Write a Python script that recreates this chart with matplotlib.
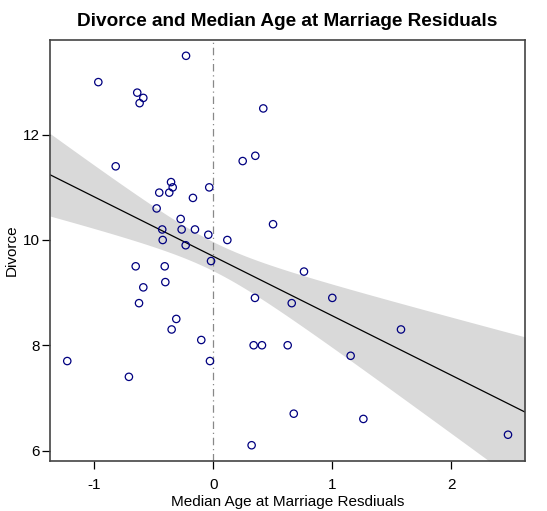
import numpy as np
import matplotlib
matplotlib.use("Agg")
from matplotlib import pyplot as plt

plt.rcParams["font.family"] = ["Liberation Sans", "DejaVu Sans"]
plt.rcParams["axes.unicode_minus"] = False

# Residuals of median age at marriage vs divorce rate
age_resid = [
    -0.229, -0.966, -0.639, -0.588, -0.619, 0.420, 0.353, 0.247, -0.820, -0.355,
    -0.341, -0.454, -0.370, -0.034, -0.171, 0.502, -0.476, -0.274, -0.429, -0.266,
    -0.154, -0.042, -0.425, 0.118, -0.232, -0.019, -0.652, -0.408, -0.403, -0.588,
    -0.624, 0.350, -0.311, -0.350, -0.101, 0.339, 0.409, 0.625, -1.227, -0.028,
    -0.709, 0.322, 0.762, 0.659, 1.000, 1.577, 1.154, 0.676, 1.261, 2.476,
]
divorce = [
    13.5, 13.0, 12.8, 12.7, 12.6, 12.5, 11.6, 11.5, 11.4, 11.1,
    11.0, 10.9, 10.9, 11.0, 10.8, 10.3, 10.6, 10.4, 10.2, 10.2,
    10.2, 10.1, 10.0, 10.0, 9.9, 9.6, 9.5, 9.5, 9.2, 9.1,
    8.8, 8.9, 8.5, 8.3, 8.1, 8.0, 8.0, 8.0, 7.7, 7.7,
    7.4, 6.1, 9.4, 8.8, 8.9, 8.3, 7.8, 6.7, 6.6, 6.3,
]
x_ticks = [-1, 0, 1, 2]
y_ticks = [6, 8, 10, 12]

# posterior summary of the linear model mu = a + b * x
a_mean, a_sd = 9.69, 0.1725
b_mean, b_sd = -1.13, 0.335
z_89 = 1.598  # 89% interval

x = np.array(age_resid)
y = np.array(divorce)

xlim = (-1.372, 2.619)
xs = np.linspace(xlim[0], xlim[1], 200)
mu = a_mean + b_mean * xs
half = z_89 * np.sqrt(a_sd ** 2 + (xs * b_sd) ** 2)

fig = plt.figure(figsize=(5.47, 5.11), dpi=100)
ax = fig.add_axes([0.0914, 0.0988, 0.8684, 0.8229])

ax.fill_between(xs, mu - half, mu + half, color="#d9d9d9", lw=0, zorder=1)
ax.plot(xs, mu, color="black", lw=0.9, zorder=2)
ax.axvline(0, color="#888888", lw=0.9, ls=(0, (6, 3, 1, 3)), zorder=2)
ax.scatter(x, y, s=28, facecolors="none", edgecolors="#000080", lw=0.9, zorder=3)

ax.set_xlim(*xlim)
ax.set_ylim(5.81, 13.80)
ax.set_xticks(x_ticks)
ax.set_yticks(y_ticks)
ax.tick_params(direction="out", length=6, width=0.9, labelsize=11, color="black")
ax.tick_params(axis="x", pad=6.5)
ax.tick_params(axis="y", pad=1.5)
for spine in ax.spines.values():
    spine.set_color("#444444")
    spine.set_linewidth(1.2)

ax.set_title("Divorce and Median Age at Marriage Residuals", fontsize=13.7,
             fontweight="bold", pad=10)
ax.set_xlabel("Median Age at Marriage Resdiuals", fontsize=11, va="top")
ax.set_ylabel("Divorce", fontsize=11, va="center")
ax.xaxis.set_label_coords(0.5, -0.082)
ax.yaxis.set_label_coords(-0.08, 0.5)

fig.savefig("out.png", dpi=100)
